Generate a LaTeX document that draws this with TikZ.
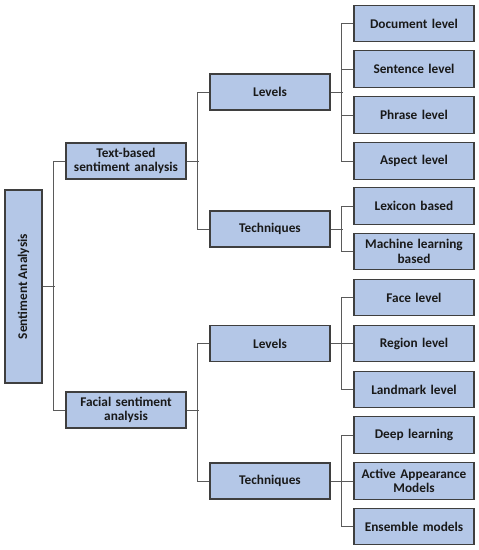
\documentclass[tikz,border=0pt]{standalone}
\usepackage{fontspec}
\setmainfont{Carlito}
\definecolor{boxfill}{HTML}{B4C7E7}
\definecolor{boxline}{HTML}{3F3F3F}
\definecolor{conline}{HTML}{5A5A5A}
\begin{document}
\begin{tikzpicture}[x=1pt,y=-1pt,
  box/.style={draw=boxline,line width=1.1pt,fill=boxfill,inner sep=1pt,align=center,
    font=\fontsize{13.3}{14.5}\selectfont\bfseries,text=black!90},
  leaf/.style={box,minimum width=120pt,minimum height=36.5pt,text width=118pt},
  mid/.style={box,minimum width=120pt,minimum height=36pt,text width=118pt},
  con/.style={draw=conline,line width=0.9pt}]
\useasboundingbox (0,0) rectangle (479,550);
% root
\node[box,minimum width=193pt,minimum height=37pt,rotate=90] (root) at (23.5,286.5) {Sentiment Analysis};
% level 1
\node[mid] (tb) at (126,161) {Text-based\\sentiment analysis};
\node[mid] (fs) at (126,410) {Facial sentiment\\analysis};
% level 2
\node[mid] (lv1) at (270,92) {Levels};
\node[mid] (tq1) at (270,229) {Techniques};
\node[mid] (lv2) at (270,343.5) {Levels};
\node[mid] (tq2) at (270,481) {Techniques};
% leaves
\node[leaf] (a1) at (414,23.5) {Document level};
\node[leaf] (a2) at (414,69) {Sentence level};
\node[leaf] (a3) at (414,115) {Phrase level};
\node[leaf] (a4) at (414,161) {Aspect level};
\node[leaf] (b1) at (414,206) {Lexicon based};
\node[leaf] (b2) at (414,251.5) {Machine learning\\based};
\node[leaf] (c1) at (414,297.5) {Face level};
\node[leaf] (c2) at (414,343.5) {Region level};
\node[leaf] (c3) at (414,389.5) {Landmark level};
\node[leaf] (e1) at (414,435) {Deep learning};
\node[leaf] (e2) at (414,481) {Active Appearance\\Models};
\node[leaf] (e3) at (414,526.5) {Ensemble models};
% connectors
\draw[con] (root.south) -- ++(12,0);
\draw[con] (tb.west) -- ++(-12,0) |- (fs.west);
\draw[con] (tb.east) -- ++(12,0);
\draw[con] (lv1.west) -- ++(-12,0) |- (tq1.west);
\draw[con] (fs.east) -- ++(12,0);
\draw[con] (lv2.west) -- ++(-12,0) |- (tq2.west);
\draw[con] (lv1.east) -- ++(12,0);
\draw[con] (a1.west) -- ++(-12,0) |- (a4.west);
\draw[con] (a2.west) -- ++(-12,0);
\draw[con] (a3.west) -- ++(-12,0);
\draw[con] (tq1.east) -- ++(12,0);
\draw[con] (b1.west) -- ++(-12,0) |- (b2.west);
\draw[con] (lv2.east) -- ++(12,0);
\draw[con] (c1.west) -- ++(-12,0) |- (c3.west);
\draw[con] (c2.west) -- ++(-12,0);
\draw[con] (tq2.east) -- ++(12,0);
\draw[con] (e1.west) -- ++(-12,0) |- (e3.west);
\draw[con] (e2.west) -- ++(-12,0);
\end{tikzpicture}
\end{document}
